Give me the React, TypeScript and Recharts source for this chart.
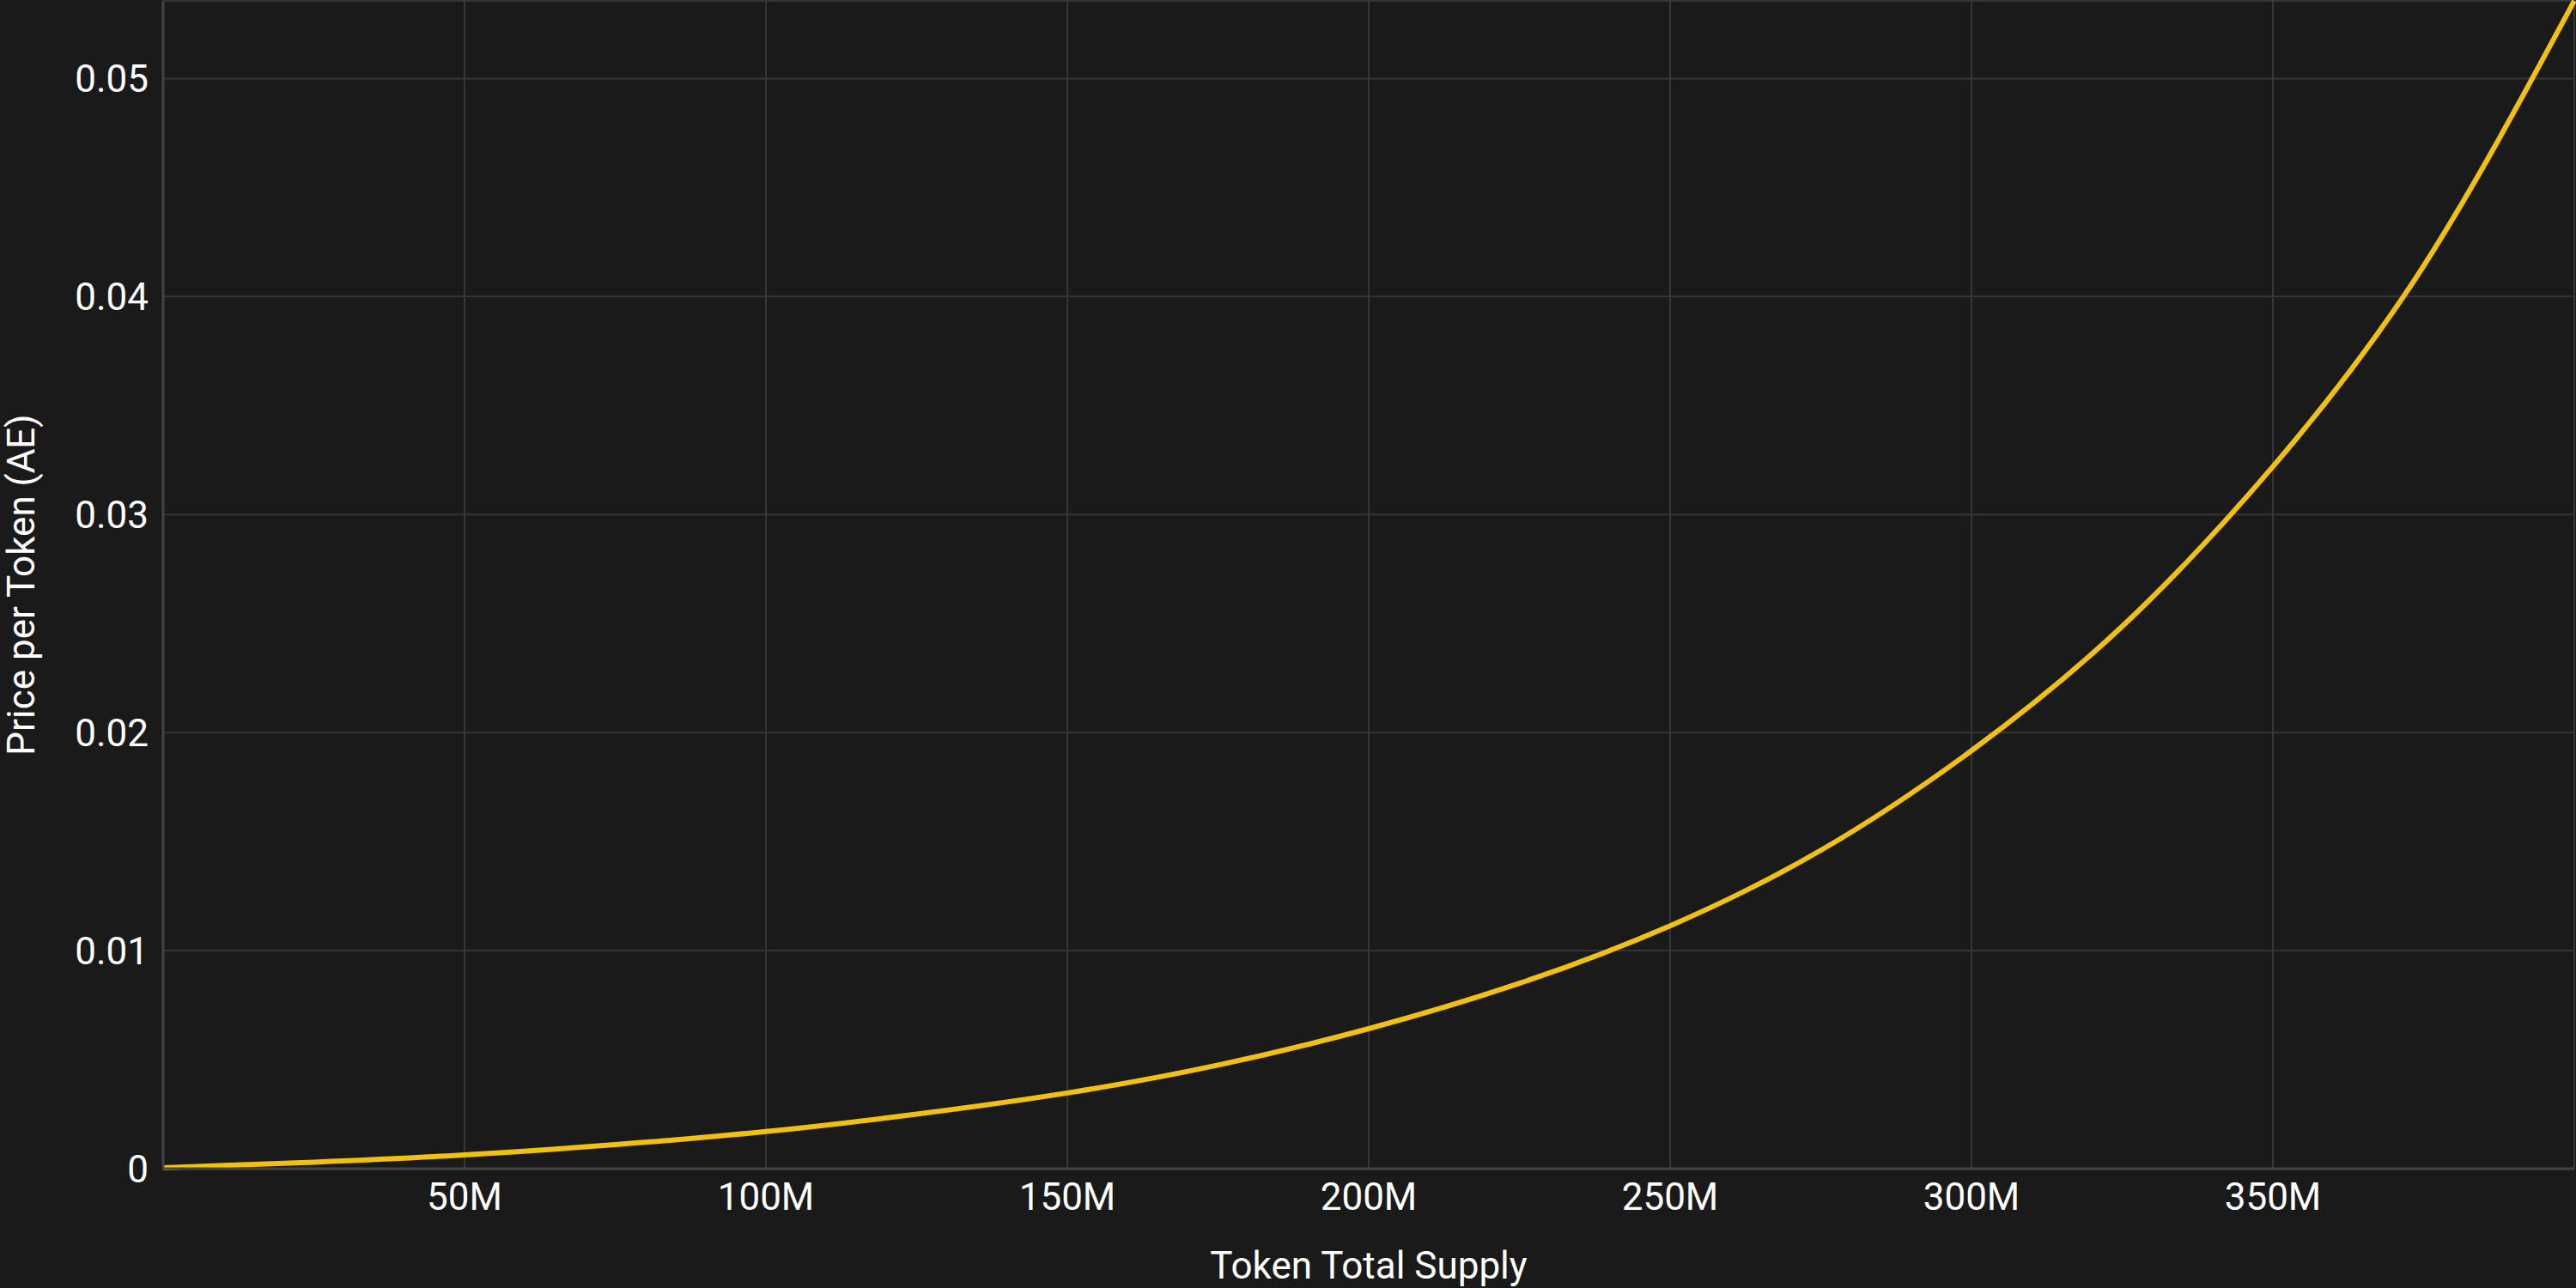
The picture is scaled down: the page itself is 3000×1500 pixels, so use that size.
import React from "react";
import {
  LineChart,
  Line,
  XAxis,
  YAxis,
  CartesianGrid,
  Label,
} from "recharts";

// Token total supply (in millions) sampled along the curve
const supplyMillions = [0, 25, 50, 75, 100, 125, 150, 175, 200, 225, 250, 275, 300, 325, 350, 375, 400];
// Price per token (AE)
const pricePerToken = [
  0.00004, 0.0003, 0.00063, 0.0011, 0.0017, 0.0025, 0.00347, 0.00475, 0.00642,
  0.0085, 0.01114, 0.0146, 0.01917, 0.02487, 0.0322, 0.0414, 0.05356,
];
const xTicks = [50, 100, 150, 200, 250, 300, 350].map((m) => m * 1e6);
const yTicks = [0, 0.01, 0.02, 0.03, 0.04, 0.05];

const xTitle = "Token Total Supply";
const yTitle = "Price per Token (AE)";

const data = supplyMillions.map((m, i) => ({ supply: m * 1e6, price: pricePerToken[i] }));

const FONT = "Roboto, 'Noto Sans', sans-serif";
const BG = "#1a1a1a";
const GRID = "#363636";
const AXIS = "#444444";
const TEXT = "#ffffff";
const LINE = "#f2c10e";

const fmtX = (v: number) => `${Math.round(v / 1e6)}M`;
const fmtY = (v: number) => (v === 0 ? "0" : String(v));

export default function App() {
  return (
    <div style={{ position: "absolute", left: 0, top: 0, width: 3000, height: 1500, background: BG }}>
      <LineChart
        width={3000}
        height={1500}
        data={data}
        margin={{ top: 1, right: 2, bottom: 0, left: 0 }}
        style={{ fontFamily: FONT }}
      >
        <CartesianGrid stroke={GRID} strokeWidth={2} />
        <XAxis
          dataKey="supply"
          type="number"
          domain={[0, "dataMax"]}
          ticks={xTicks}
          tickFormatter={fmtX}
          height={139}
          tickLine={false}
          tickMargin={11}
          axisLine={{ stroke: AXIS, strokeWidth: 3 }}
          tick={{ fill: TEXT, fontSize: 44, fontFamily: FONT }}
          interval={0}
        >
          <Label
            content={(props: any) => {
              const vb = props.viewBox || {};
              return (
                <text
                  x={vb.x + vb.width / 2}
                  y={vb.y + 128}
                  textAnchor="middle"
                  fill={TEXT}
                  fontSize={44}
                  fontFamily={FONT}
                >
                  {xTitle}
                </text>
              );
            }}
          />
        </XAxis>
        <XAxis
          xAxisId="top"
          dataKey="supply"
          type="number"
          orientation="top"
          domain={[0, "dataMax"]}
          height={0}
          tick={false}
          tickLine={false}
          axisLine={{ stroke: AXIS, strokeWidth: 3 }}
        />
        <YAxis
          type="number"
          domain={[0, "dataMax"]}
          ticks={yTicks}
          tickFormatter={fmtY}
          width={190}
          tickLine={false}
          tickMargin={11}
          axisLine={{ stroke: AXIS, strokeWidth: 3 }}
          tick={{ fill: TEXT, fontSize: 44, fontFamily: FONT }}
          interval={0}
        >
          <Label
            content={(props: any) => {
              const vb = props.viewBox || {};
              const cx = vb.x + 25;
              const cy = vb.y + vb.height / 2;
              return (
                <text
                  x={cx}
                  y={cy}
                  transform={`rotate(-90, ${cx}, ${cy})`}
                  textAnchor="middle"
                  dominantBaseline="central"
                  fill={TEXT}
                  fontSize={44}
                  fontFamily={FONT}
                >
                  {yTitle}
                </text>
              );
            }}
          />
        </YAxis>
        <YAxis
          yAxisId="right"
          orientation="right"
          type="number"
          domain={[0, "dataMax"]}
          width={0}
          tick={false}
          tickLine={false}
          axisLine={{ stroke: AXIS, strokeWidth: 3 }}
        />
        <Line
          type="natural"
          dataKey="price"
          stroke={LINE}
          strokeWidth={6}
          dot={false}
          activeDot={false}
          isAnimationActive={false}
        />
      </LineChart>
    </div>
  );
}
